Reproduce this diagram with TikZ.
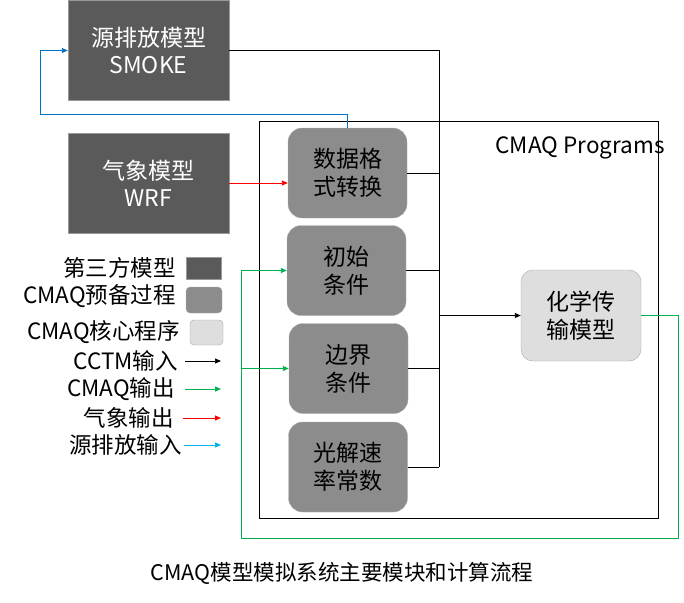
\documentclass[tikz,border=0pt]{standalone}
\usepackage{fontspec}
\setmainfont{Noto Sans CJK SC}
\usetikzlibrary{arrows.meta}
\definecolor{dk}{HTML}{5A5A5A}
\definecolor{md}{HTML}{8C8C8C}
\definecolor{lt}{HTML}{DEDEDE}
\definecolor{gn}{HTML}{00B050}
\definecolor{bl}{HTML}{0070C0}
\definecolor{cy}{HTML}{00B0F0}
\begin{document}
\begin{tikzpicture}[x=1pt,y=-1pt,
  third/.style={draw=gray!80,fill=dk,text=white,font=\fontsize{23}{27}\selectfont,align=center,minimum width=161pt,minimum height=100pt,inner sep=0},
  prep/.style={draw=gray!60,fill=md,rounded corners=14pt,font=\fontsize{23}{28}\selectfont,align=center,minimum width=119pt,minimum height=90pt,inner sep=0},
  core/.style={draw=gray!70,fill=lt,rounded corners=12pt,font=\fontsize{23}{28}\selectfont,align=center,minimum width=120pt,minimum height=91pt,inner sep=0},
  leg/.style={anchor=east,font=\fontsize{22.5}{25}\selectfont,inner sep=0},
  ar/.style={-{Triangle[length=6pt,width=5pt]},line width=0.9pt}]
\useasboundingbox (0,0) rectangle (684,602);
\node[third] (smoke) at (148.5,50.5) {源排放模型\\SMOKE};
\node[third] (wrf) at (148.5,183) {气象模型\\WRF};
\node[draw,line width=0.8pt,minimum width=399pt,minimum height=397pt,inner sep=0] (prog) at (458.5,319.5) {};
\node[font=\fontsize{22.5}{26}\selectfont] (pt) at (580,148) {CMAQ Programs};
\node[prep] (fmt) at (347.5,173) {数据格\\式转换};
\node[prep] (ini) at (346.5,270.5) {初始\\条件};
\node[prep] (bnd) at (348.5,368.5) {边界\\条件};
\node[prep] (pho) at (348,467) {光解速\\率常数};
\node[core] (ctm) at (581,315.5) {化学传\\输模型};
\coordinate (j) at (439,315.5);
\draw[line width=0.8pt] (smoke.east) -- (439,50.5) -- (439,467);
\draw[line width=0.8pt] (fmt.east) -- (439,173);
\draw[line width=0.8pt] (ini.east) -- (439,270.5);
\draw[line width=0.8pt] (bnd.east) -- (439,368.5);
\draw[line width=0.8pt] (pho.east) -- (439,467);
\draw[ar] (j) -- (ctm.west);
\draw[ar,bl] (fmt.north) -- (347.5,114) -- (40,114) -- (40,50.5) -- (smoke.west);
\draw[ar,red] (wrf.east) -- (wrf.east -| fmt.west);
\draw[ar,gn] (ctm.east) -- (678,315.5) -- (678,538) -- (241,538) -- (241,270.5) -- (ini.west);
\draw[ar,gn] (241,368.5) -- (bnd.west);
% legend
\node[leg] (l1) at (176,268) {第三方模型};
\node[leg] (l2) at (176,296) {CMAQ预备过程};
\node[leg] (l3) at (180,332) {CMAQ核心程序};
\node[leg] (l4) at (178,361) {CCTM输入};
\node[leg] (l5) at (175,389) {CMAQ输出};
\node[leg] (l6) at (174,418) {气象输出};
\node[leg] (l7) at (182,445) {源排放输入};
\node[draw=gray!80,fill=dk,minimum width=35pt,minimum height=22pt,inner sep=0] (s1) at (203.5,268) {};
\node[draw=gray!60,fill=md,rounded corners=4pt,minimum width=36pt,minimum height=26pt,inner sep=0] (s2) at (204,300) {};
\node[draw=gray!70,fill=lt,rounded corners=4pt,minimum width=33pt,minimum height=25pt,inner sep=0] (s3) at (206.5,332.5) {};
\coordinate (a4) at (185,361); \coordinate (b4) at (221,361);
\coordinate (a5) at (185,389); \coordinate (b5) at (221,389);
\coordinate (a6) at (183,418); \coordinate (b6) at (221,418);
\coordinate (a7) at (184,445); \coordinate (b7) at (221,445);
\draw[ar,line width=0.7pt] (a4) -- (b4);
\draw[ar,gn] (a5) -- (b5);
\draw[ar,red] (a6) -- (b6);
\draw[ar,cy] (a7) -- (b7);
\node[font=\fontsize{21.5}{24}\selectfont] (cap) at (342,573) {CMAQ模型模拟系统主要模块和计算流程};
\end{tikzpicture}
\end{document}
